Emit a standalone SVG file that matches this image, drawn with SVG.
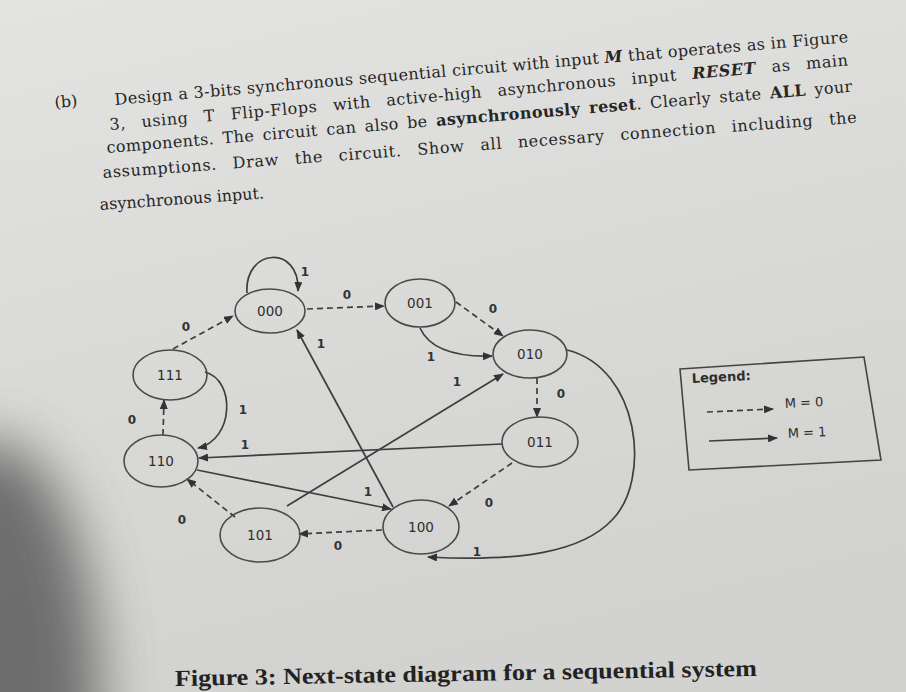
<svg xmlns="http://www.w3.org/2000/svg" width="906" height="692" viewBox="0 0 906 692">
<defs>
<linearGradient id="paper" x1="0" y1="0" x2="0.3" y2="1">
<stop offset="0" stop-color="#e3e3e1"/>
<stop offset="0.5" stop-color="#dadad8"/>
<stop offset="1" stop-color="#d2d2d0"/>
</linearGradient>
<filter id="blur" x="-1" y="-1" width="3" height="3"><feGaussianBlur stdDeviation="28"/></filter>
<marker id="ah" viewBox="0 0 10 8" refX="9" refY="4" markerWidth="10" markerHeight="8" markerUnits="userSpaceOnUse" orient="auto">
<path d="M0,0 L10,4 L0,8 z" fill="#333"/>
</marker>
<style>
.p{font-family:"DejaVu Serif","Liberation Serif",serif;font-size:16px;fill:#262626}
.b{font-weight:bold}
.bi{font-weight:bold;font-style:italic}
.node ellipse{fill:none;stroke:#4a4a4a;stroke-width:1.6}
.node text{font-family:"DejaVu Sans",Verdana,sans-serif;font-size:13.5px;fill:#2e2e2e;text-anchor:middle;dominant-baseline:central}
.e{fill:none;stroke:#3e3e3e;stroke-width:1.7}
.d{stroke-dasharray:6 4}
.lbl{font-family:"DejaVu Sans",Verdana,sans-serif;font-size:12px;font-weight:bold;fill:#333;text-anchor:middle;dominant-baseline:central}
.lg{font-family:"DejaVu Sans",Verdana,sans-serif;font-size:13px;fill:#2e2e2e}
.cap{font-family:"Liberation Serif","Times New Roman",serif;font-size:23px;font-weight:bold;fill:#222}
</style>
</defs>
<rect width="906" height="692" fill="url(#paper)"/>
<ellipse cx="-10" cy="700" rx="110" ry="260" fill="#5c5c5c" filter="url(#blur)" opacity="0.85"/>

<g id="question">
<text class="p" x="55" y="108" transform="rotate(-4.9 55 108)">(b)</text>
<text class="p" x="115" y="105" textLength="736" lengthAdjust="spacing" transform="rotate(-4.9 115 105)">Design a 3-bits synchronous sequential circuit with input <tspan class="bi">M</tspan> that operates as in Figure</text>
<text class="p" x="110" y="130" word-spacing="10" textLength="741" lengthAdjust="spacing" transform="rotate(-5.0 110 130)">3, using T Flip-Flops with active-high asynchronous input <tspan class="bi">RESET</tspan> as main</text>
<text class="p" x="107" y="153" word-spacing="3" textLength="748" lengthAdjust="spacing" transform="rotate(-4.7 107 153)">components. The circuit can also be <tspan class="b">asynchronously reset</tspan>. Clearly state <tspan class="b">ALL</tspan> your</text>
<text class="p" x="103" y="178" word-spacing="10" textLength="756" lengthAdjust="spacing" transform="rotate(-4.2 103 178)">assumptions. Draw the circuit. Show all necessary connection including the</text>
<text class="p" x="100" y="210" transform="rotate(-4 100 210)">asynchronous input.</text>
</g>

<g id="connectors">
<path class="e" d="M247,293 C244,248 300,244 298,291" marker-end="url(#ah)"/>
<path class="e d" d="M307,309 L384,306" marker-end="url(#ah)"/>
<path class="e d" d="M173,349 L233,316" marker-end="url(#ah)"/>
<path class="e" d="M393,507 L297,330" marker-end="url(#ah)"/>
<path class="e d" d="M456,302 L503,336" marker-end="url(#ah)"/>
<path class="e" d="M420,328 C430,350 458,357 492,356" marker-end="url(#ah)"/>
<path class="e" d="M287,506 L503,374" marker-end="url(#ah)"/>
<path class="e d" d="M537,378 L537,417" marker-end="url(#ah)"/>
<path class="e" d="M567,350 C640,368 652,480 612,520 C582,552 520,562 428,557" marker-end="url(#ah)"/>
<path class="e" d="M502,444 L199,458" marker-end="url(#ah)"/>
<path class="e d" d="M512,463 L449,506" marker-end="url(#ah)"/>
<path class="e" d="M197,470 L391,509" marker-end="url(#ah)"/>
<path class="e d" d="M382,530 L299,534" marker-end="url(#ah)"/>
<path class="e d" d="M235,517 L187,479" marker-end="url(#ah)"/>
<path class="e d" d="M163,435 L164,400" marker-end="url(#ah)"/>
<path class="e" d="M205,372 C236,380 234,440 198,448" marker-end="url(#ah)"/>
</g>

<g id="edge-labels">
<text class="lbl" x="305" y="272">1</text>
<text class="lbl" x="347" y="295">0</text>
<text class="lbl" x="186" y="327">0</text>
<text class="lbl" x="321" y="344">1</text>
<text class="lbl" x="493" y="309">0</text>
<text class="lbl" x="431" y="357">1</text>
<text class="lbl" x="457" y="382">1</text>
<text class="lbl" x="561" y="394">0</text>
<text class="lbl" x="477" y="552">1</text>
<text class="lbl" x="245" y="445">1</text>
<text class="lbl" x="489" y="503">0</text>
<text class="lbl" x="368" y="492">1</text>
<text class="lbl" x="338" y="546">0</text>
<text class="lbl" x="182" y="520">0</text>
<text class="lbl" x="132" y="420">0</text>
<text class="lbl" x="243" y="410">1</text>
</g>

<g id="s000" class="node"><ellipse cx="270" cy="311" rx="35" ry="22"/><text x="270" y="311">000</text></g>
<g id="s001" class="node"><ellipse cx="420" cy="303" rx="35" ry="24"/><text x="420" y="303">001</text></g>
<g id="s010" class="node"><ellipse cx="530" cy="354" rx="37" ry="24"/><text x="530" y="354">010</text></g>
<g id="s011" class="node"><ellipse cx="540" cy="442" rx="38" ry="25"/><text x="540" y="442">011</text></g>
<g id="s111" class="node"><ellipse cx="170" cy="375" rx="37" ry="25"/><text x="170" y="375">111</text></g>
<g id="s110" class="node"><ellipse cx="161" cy="461" rx="37" ry="26"/><text x="161" y="461">110</text></g>
<g id="s101" class="node"><ellipse cx="260" cy="535" rx="40" ry="27"/><text x="260" y="535">101</text></g>
<g id="s100" class="node"><ellipse cx="421" cy="527" rx="38" ry="27"/><text x="421" y="527">100</text></g>

<g id="legend">
<polygon points="680,369 864,357 881,460 689,470" fill="none" stroke="#444" stroke-width="1.6"/>
<text class="lg" x="692" y="383" font-weight="bold" transform="rotate(-3 692 383)">Legend:</text>
<path class="e d" d="M707,412 L773,409" marker-end="url(#ah)"/>
<text class="lg" x="785" y="408" transform="rotate(-3 785 408)">M = 0</text>
<path class="e" d="M709,441 L777,438" marker-end="url(#ah)"/>
<text class="lg" x="788" y="438" transform="rotate(-3 788 438)">M = 1</text>
</g>

<text class="cap" x="175" y="686" textLength="582" lengthAdjust="spacingAndGlyphs" transform="rotate(-1 175 686)">Figure 3: Next-state diagram for a sequential system</text>
</svg>
